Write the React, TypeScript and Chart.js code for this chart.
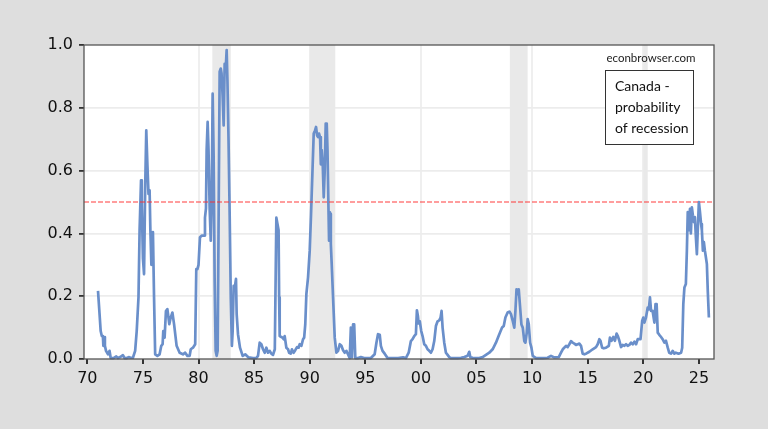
import React, { useEffect, useRef } from "react";
import { Chart, registerables } from "chart.js";

Chart.register(...registerables);

// Decimal year of each reading
const years: number[] = [
  1970.96, 1971.08, 1971.2, 1971.3, 1971.4, 1971.44, 1971.5, 1971.58, 1971.68, 1971.86,
  1972.0, 1972.1, 1972.35, 1972.6, 1972.75, 1972.95, 1973.2, 1973.35, 1973.55, 1973.72,
  1973.9, 1974.1, 1974.3, 1974.44, 1974.6, 1974.7, 1974.83, 1974.9, 1975.0, 1975.1,
  1975.2, 1975.3, 1975.4, 1975.5, 1975.6, 1975.67, 1975.76, 1975.85, 1975.9, 1976.0,
  1976.1, 1976.3, 1976.5, 1976.65, 1976.77, 1976.83, 1976.95, 1977.07, 1977.2, 1977.37,
  1977.5, 1977.65, 1977.8, 1978.03, 1978.3, 1978.6, 1978.8, 1979.0, 1979.2, 1979.3,
  1979.5, 1979.7, 1979.8, 1979.9, 1980.0, 1980.13, 1980.3, 1980.5, 1980.58, 1980.67,
  1980.73, 1980.82, 1980.9, 1981.0, 1981.1, 1981.18, 1981.27, 1981.36, 1981.45, 1981.54,
  1981.63, 1981.72, 1981.8, 1981.9, 1982.0, 1982.07, 1982.17, 1982.26, 1982.35, 1982.43,
  1982.53, 1982.6, 1982.7, 1982.8, 1982.9, 1983.0, 1983.07, 1983.16, 1983.28, 1983.37,
  1983.43, 1983.55, 1983.73, 1983.97, 1984.2, 1984.5, 1984.9, 1985.2, 1985.35, 1985.5,
  1985.65, 1985.8, 1985.95, 1986.1, 1986.25, 1986.4, 1986.55, 1986.7, 1986.86, 1986.95,
  1987.0, 1987.1, 1987.2, 1987.25, 1987.3, 1987.45, 1987.55, 1987.66, 1987.75, 1987.9,
  1988.05, 1988.15, 1988.3, 1988.4, 1988.55, 1988.7, 1988.86, 1989.0, 1989.1, 1989.25,
  1989.4, 1989.5, 1989.6, 1989.7, 1989.85, 1990.0, 1990.12, 1990.24, 1990.36, 1990.48,
  1990.57, 1990.66, 1990.75, 1990.84, 1990.93, 1991.0, 1991.08, 1991.17, 1991.26, 1991.35,
  1991.44, 1991.53, 1991.6, 1991.68, 1991.74, 1991.8, 1991.86, 1991.9, 1991.98, 1992.1,
  1992.25, 1992.4, 1992.55, 1992.7, 1992.85, 1993.0, 1993.15, 1993.3, 1993.44, 1993.6,
  1993.7, 1993.8, 1993.9, 1994.0, 1994.1, 1994.35, 1994.6, 1994.9, 1995.2, 1995.5,
  1995.84, 1996.0, 1996.14, 1996.3, 1996.4, 1996.55, 1996.74, 1997.0, 1997.5, 1997.95,
  1998.4, 1998.65, 1998.9, 1999.1, 1999.25, 1999.4, 1999.55, 1999.64, 1999.73, 1999.8,
  1999.9, 2000.03, 2000.15, 2000.3, 2000.45, 2000.6, 2000.75, 2000.9, 2001.05, 2001.2,
  2001.35, 2001.5, 2001.65, 2001.77, 2001.86, 2001.95, 2002.1, 2002.25, 2002.4, 2002.55,
  2002.7, 2003.0, 2003.3, 2003.6, 2003.9, 2004.2, 2004.35, 2004.44, 2004.65, 2004.95,
  2005.25, 2005.55, 2005.85, 2006.15, 2006.45, 2006.75, 2007.05, 2007.3, 2007.45, 2007.6,
  2007.8, 2007.96, 2008.1, 2008.26, 2008.4, 2008.5, 2008.6, 2008.7, 2008.8, 2008.9,
  2009.04, 2009.16, 2009.3, 2009.4, 2009.52, 2009.6, 2009.7, 2009.82, 2009.94, 2010.06,
  2010.36, 2010.96, 2011.4, 2011.7, 2012.0, 2012.4, 2012.6, 2012.76, 2013.05, 2013.2,
  2013.35, 2013.5, 2013.65, 2013.8, 2013.95, 2014.1, 2014.25, 2014.4, 2014.55, 2014.7,
  2014.85, 2015.15, 2015.45, 2015.75, 2015.9, 2016.05, 2016.15, 2016.3, 2016.45, 2016.65,
  2016.9, 2017.0, 2017.15, 2017.3, 2017.45, 2017.6, 2017.7, 2017.85, 2018.0, 2018.15,
  2018.3, 2018.45, 2018.6, 2018.75, 2018.9, 2019.05, 2019.2, 2019.35, 2019.5, 2019.6,
  2019.75, 2019.9, 2020.0, 2020.1, 2020.24, 2020.4, 2020.5, 2020.6, 2020.7, 2020.84,
  2021.0, 2021.1, 2021.2, 2021.3, 2021.44, 2021.6, 2021.74, 2021.9, 2022.04, 2022.2,
  2022.33, 2022.5, 2022.64, 2022.8, 2022.93, 2023.17, 2023.4, 2023.5, 2023.6, 2023.7,
  2023.83, 2023.92, 2024.0, 2024.1, 2024.2, 2024.28, 2024.37, 2024.46, 2024.55, 2024.64,
  2024.73, 2024.82, 2024.9, 2025.0, 2025.1, 2025.2, 2025.27, 2025.36, 2025.45, 2025.54,
  2025.63, 2025.72, 2025.8, 2025.9,
];

// Probability of recession read at each year above
const probability: number[] = [
  0.217, 0.153, 0.089, 0.073, 0.073, 0.042, 0.07, 0.042, 0.026, 0.015,
  0.026, 0.003, 0.003, 0.008, 0.003, 0.006, 0.012, 0.003, 0.003, 0.006,
  0.004, 0.004, 0.026, 0.089, 0.196, 0.41, 0.569, 0.49, 0.32, 0.27,
  0.537, 0.728, 0.62, 0.526, 0.537, 0.41, 0.3, 0.4, 0.404, 0.196,
  0.015, 0.01, 0.015, 0.042, 0.047, 0.089, 0.068, 0.153, 0.159, 0.111,
  0.132, 0.148, 0.111, 0.042, 0.02, 0.015, 0.02, 0.01, 0.01, 0.031,
  0.036, 0.047, 0.286, 0.286, 0.3, 0.388, 0.393, 0.393, 0.45, 0.48,
  0.665, 0.755, 0.665, 0.48, 0.377, 0.494, 0.845, 0.643, 0.25, 0.026,
  0.01, 0.026, 0.41, 0.915, 0.925, 0.91, 0.835, 0.744, 0.94, 0.915,
  0.984, 0.888, 0.696, 0.462, 0.196, 0.042, 0.089, 0.233, 0.233, 0.255,
  0.143, 0.079, 0.036, 0.01, 0.015, 0.005, 0.003, 0.003, 0.01, 0.052,
  0.047, 0.031, 0.02, 0.036, 0.02, 0.026, 0.017, 0.013, 0.031, 0.3,
  0.45, 0.43, 0.41, 0.196, 0.073, 0.07, 0.068, 0.063, 0.073, 0.036,
  0.031, 0.02, 0.017, 0.031, 0.02, 0.028, 0.038, 0.036, 0.047, 0.042,
  0.063, 0.068, 0.11, 0.207, 0.26, 0.345, 0.462, 0.59, 0.718, 0.728,
  0.739, 0.712, 0.707, 0.718, 0.707, 0.62, 0.665, 0.62, 0.515, 0.6,
  0.75, 0.75, 0.665, 0.494, 0.377, 0.468, 0.462, 0.366, 0.3, 0.196,
  0.068, 0.02, 0.026, 0.047, 0.042, 0.028, 0.02, 0.026, 0.015, 0.003,
  0.1, 0.005, 0.11, 0.11, 0.003, 0.003, 0.006, 0.003, 0.003, 0.003,
  0.015, 0.052, 0.079, 0.077, 0.042, 0.026, 0.017, 0.003, 0.003, 0.003,
  0.005, 0.003, 0.02, 0.057, 0.063, 0.073, 0.079, 0.155, 0.137, 0.113,
  0.12, 0.089, 0.073, 0.047, 0.042, 0.031, 0.026, 0.02, 0.031, 0.057,
  0.105, 0.12, 0.123, 0.132, 0.153, 0.1, 0.052, 0.02, 0.013, 0.006,
  0.003, 0.003, 0.003, 0.004, 0.006, 0.01, 0.023, 0.006, 0.004, 0.003,
  0.003, 0.006, 0.013, 0.02, 0.031, 0.052, 0.079, 0.1, 0.105, 0.132,
  0.148, 0.151, 0.143, 0.121, 0.1, 0.153, 0.222, 0.207, 0.222, 0.175,
  0.11, 0.1, 0.057, 0.052, 0.084, 0.127, 0.111, 0.052, 0.036, 0.01,
  0.003, 0.003, 0.004, 0.01, 0.005, 0.006, 0.02, 0.031, 0.042, 0.038,
  0.047, 0.057, 0.052, 0.049, 0.045, 0.047, 0.049, 0.042, 0.017, 0.015,
  0.017, 0.023, 0.031, 0.038, 0.047, 0.063, 0.058, 0.036, 0.034, 0.036,
  0.042, 0.068, 0.058, 0.07, 0.058, 0.081, 0.074, 0.058, 0.038, 0.045,
  0.042, 0.047, 0.042, 0.045, 0.052, 0.047, 0.055, 0.047, 0.063, 0.063,
  0.063, 0.121, 0.132, 0.116, 0.132, 0.164, 0.158, 0.196, 0.153, 0.153,
  0.116, 0.175, 0.175, 0.084, 0.077, 0.07, 0.063, 0.052, 0.058, 0.036,
  0.02, 0.017, 0.026, 0.017, 0.02, 0.017, 0.02, 0.036, 0.175, 0.228,
  0.239, 0.345, 0.468, 0.41, 0.478, 0.4, 0.483, 0.457, 0.436, 0.452,
  0.388, 0.334, 0.41, 0.5, 0.468, 0.43, 0.41, 0.345, 0.372, 0.345,
  0.324, 0.302, 0.217, 0.132,
];

// Recession bands (start, end) in decimal years
const recessionStarts: number[] = [1981.24, 1990.0, 2008.0, 2020.0];
const recessionEnds: number[] = [1982.9, 1992.3, 2009.6, 2020.4];

const threshold = 0.5;
const xTicks: number[] = [1970, 1975, 1980, 1985, 1990, 1995, 2000, 2005, 2010, 2015, 2020, 2025];
const yTicks: number[] = [0, 0.2, 0.4, 0.6, 0.8, 1.0];
const xMin = 1969.7;
const xMax = 2026.36;
const boxLines: string[] = ["Canada -", "probability", "of recession"];
const watermark = "econbrowser.com";

const decorPlugin = {
  id: "decor",
  beforeDraw(chart: any) {
    const { ctx, chartArea } = chart;
    const { left, top, right, bottom } = chartArea;
    ctx.save();
    ctx.fillStyle = "#dedede";
    ctx.fillRect(0, 0, chart.width, chart.height);
    ctx.fillStyle = "#ffffff";
    ctx.fillRect(left, top, right - left, bottom - top);
    ctx.restore();
  },
  beforeDatasetsDraw(chart: any) {
    const { ctx, chartArea, scales } = chart;
    const x = scales.x;
    ctx.save();
    ctx.fillStyle = "#e9e9e9";
    for (let i = 0; i < recessionStarts.length; i++) {
      const a = x.getPixelForValue(recessionStarts[i]);
      const b = x.getPixelForValue(recessionEnds[i]);
      ctx.fillRect(a, chartArea.top, b - a, chartArea.bottom - chartArea.top);
    }
    ctx.restore();
  },
  afterDatasetsDraw(chart: any) {
    const { ctx, chartArea } = chart;
    const { left, top, right, bottom } = chartArea;
    ctx.save();
    // frame
    ctx.strokeStyle = "#555555";
    ctx.lineWidth = 1.3;
    ctx.strokeRect(left, top, right - left, bottom - top);
    // watermark
    ctx.fillStyle = "#222222";
    ctx.font = "11.5px Lato, 'Open Sans', sans-serif";
    ctx.textAlign = "center";
    ctx.textBaseline = "middle";
    ctx.fillText(watermark, right - 63, top + 13);
    // text box
    const bx = right - 109;
    const by = top + 25;
    const bw = 88;
    const bh = 74;
    ctx.fillStyle = "#ffffff";
    ctx.fillRect(bx, by, bw, bh);
    ctx.strokeStyle = "#333333";
    ctx.lineWidth = 1;
    ctx.strokeRect(bx + 0.5, by + 0.5, bw, bh);
    ctx.fillStyle = "#111111";
    ctx.font = "14px Lato, 'Open Sans', sans-serif";
    ctx.textAlign = "left";
    boxLines.forEach((t, i) => {
      ctx.fillText(t, bx + 10, by + 16 + i * 21);
    });
    ctx.restore();
  },
};

export default function App() {
  const canvasRef = useRef<HTMLCanvasElement | null>(null);

  useEffect(() => {
    document.body.style.margin = "0";
    const canvas = canvasRef.current;
    if (!canvas) return;
    const lineData = years.map((x, i) => ({ x, y: probability[i] }));
    const thresholdData = [
      { x: xMin, y: threshold },
      { x: xMax, y: threshold },
    ];
    const chart = new Chart(canvas, {
      type: "line",
      data: {
        datasets: [
          {
            data: thresholdData,
            borderColor: "rgba(255,50,50,0.95)",
            borderWidth: 1.2,
            borderDash: [5, 2],
            pointRadius: 0,
            tension: 0,
          },
          {
            data: lineData,
            borderColor: "#6a8fca",
            borderWidth: 2.7,
            pointRadius: 0,
            tension: 0,
            borderJoinStyle: "round",
            clip: false as any,
          },
        ],
      },
      options: {
        animation: false,
        responsive: true,
        maintainAspectRatio: false,
        layout: { padding: { left: 0, top: 45, right: 54, bottom: 30 } },
        plugins: {
          legend: { display: false },
          tooltip: { enabled: false },
        },
        scales: {
          x: {
            type: "linear",
            min: xMin,
            max: xMax,
            afterBuildTicks: (scale: any) => {
              scale.ticks = xTicks.map((v) => ({ value: v }));
            },
            afterFit: (scale: any) => {
              scale.height = 40;
            },
            border: { display: false },
            grid: {
              color: (ctx: any) =>
                ctx.tick && ctx.tick.value % 10 === 0 && ctx.tick.value !== 1970
                  ? "#efefef"
                  : "rgba(0,0,0,0)",
              tickColor: "#333333",
              tickLength: 5,
              drawTicks: true,
              lineWidth: 2,
            },
            ticks: {
              autoSkip: false,
              maxRotation: 0,
              padding: 5,
              color: "#111111",
              font: { family: "'DejaVu Sans', sans-serif", size: 16 },
              callback: (v: any) => String(Number(v) % 100).padStart(2, "0"),
            },
          },
          y: {
            min: 0,
            max: 1,
            afterBuildTicks: (scale: any) => {
              scale.ticks = yTicks.map((v) => ({ value: v }));
            },
            afterFit: (scale: any) => {
              scale.width = 84;
            },
            border: { display: false },
            grid: {
              color: (ctx: any) =>
                ctx.tick && ctx.tick.value > 0 && ctx.tick.value < 1 ? "#ececec" : "rgba(0,0,0,0)",
              tickColor: "#333333",
              tickLength: 5,
              lineWidth: 1.8,
            },
            ticks: {
              padding: 6,
              color: "#111111",
              font: { family: "'DejaVu Sans', sans-serif", size: 16 },
              callback: (v: any) => Number(v).toFixed(1),
            },
          },
        },
      },
      plugins: [decorPlugin],
    });
    return () => chart.destroy();
  }, []);

  return (
    <div style={{ position: "fixed", left: 0, top: 0, width: 768, height: 429, background: "#dedede" }}>
      <canvas ref={canvasRef} />
    </div>
  );
}
